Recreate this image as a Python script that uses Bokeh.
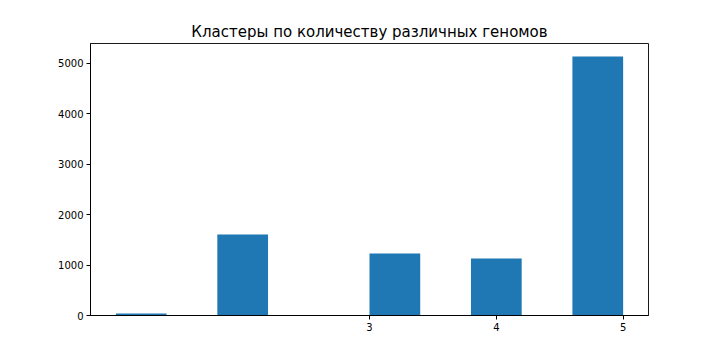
import numpy as np
from bokeh.plotting import figure
from bokeh.models import FixedTicker, Range1d
from bokeh.embed import file_html
from bokeh.resources import INLINE

# Number of distinct genomes per cluster, and how many clusters have each
genome_counts = [1, 2, 3, 4, 5]
cluster_counts = [40, 1607, 1230, 1131, 5139]
x_ticks = [3, 4, 5]
title_text = "Кластеры по количеству различных геномов"

# Histogram bins: 10 equal bins spanning the observed range
edges = np.linspace(min(genome_counts), max(genome_counts), 11)
idx = np.clip(np.searchsorted(edges, genome_counts, side="right") - 1, 0, 9)
left = edges[idx]
right = edges[idx + 1]

p = figure(width=720, height=360, output_backend="svg", toolbar_location=None,
           min_border_left=90, min_border_right=72, min_border_top=43,
           min_border_bottom=45)
span = max(genome_counts) - min(genome_counts)
p.x_range = Range1d(min(genome_counts) - 0.05 * span, max(genome_counts) + 0.05 * span)
p.y_range = Range1d(0, max(cluster_counts) * 1.05)

p.quad(left=left, right=right, bottom=0, top=cluster_counts,
       fill_color="#1f77b4", line_color=None)

p.title.text = title_text
p.title.align = "center"
p.title.text_font = "DejaVu Sans"
p.title.text_font_size = "15px"
p.title.text_font_style = "normal"
p.title.text_color = "black"
p.title.standoff = 6

p.xgrid.visible = False
p.ygrid.visible = False
p.outline_line_color = "black"
p.outline_line_width = 1
p.outline_line_alpha = 0.9

p.xaxis.ticker = FixedTicker(ticks=x_ticks)
p.yaxis.ticker = FixedTicker(ticks=[0, 1000, 2000, 3000, 4000, 5000])
for ax in (p.xaxis, p.yaxis):
    ax.major_label_text_font = "DejaVu Sans"
    ax.major_label_text_font_size = "10px"
    ax.major_label_text_color = "black"
    ax.major_tick_in = 0
    ax.major_tick_out = 4
    ax.minor_tick_line_color = None
    ax.axis_line_color = "black"
    ax.major_tick_line_color = "black"
    ax.major_label_standoff = 3

p.background_fill_color = "white"
p.border_fill_color = "white"

open("out.html", "w").write(file_html(p, INLINE))
